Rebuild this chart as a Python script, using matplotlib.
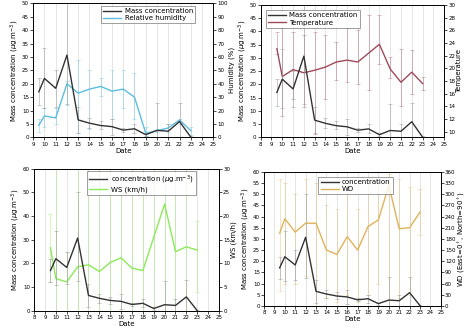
import matplotlib
matplotlib.use('Agg')
import matplotlib.pyplot as plt
import numpy as np

# shared dates and mass concentration
dates = [9.5, 10, 11, 12, 13, 14, 15, 16, 17, 18, 19, 20, 21, 22, 23]
conc = [17.0, 22.0, 18.3, 30.7, 6.5, 5.3, 4.4, 4.0, 2.7, 3.2, 1.0, 2.6, 2.3, 5.9, 0.1]
conc_lo = [12.0, 11.0, 11.5, 12.5, 1.5, 3.5, 3.0, 1.0, 2.0, 1.5, 0.5, 0.0, 0.0, 0.0, 0.0]
conc_hi = [22.0, 33.5, 25.0, 50.0, 11.5, 7.3, 6.0, 7.0, 3.5, 5.0, 1.5, 12.7, 5.0, 13.0, 0.5]

# relative humidity (%)
rh = [9, 16, 14.5, 40, 33, 36, 38, 34.5, 36, 30, 3, 5, 7, 13, 5]
rh_lo = [4, 8, 10, 24, 3, 6, 31, 14, 22, 14, 1, 4, 4, 10, 2]
rh_hi = [14, 22, 22, 42, 58, 50, 44, 50, 50, 48, 8, 6, 10, 14, 8]

# temperature
temp = [23.1, 18.7, 19.8, 19.3, 19.7, 20.2, 21.0, 21.3, 21.0, 22.4, 23.8, 19.9, 17.8, 19.4, 17.6]
temp_lo = [22.3, 12.5, 15.2, 13.9, 9.6, 15.2, 18.1, 17.8, 17.6, 16.5, 20.7, 18.4, 14.0, 16.0, 16.5]
temp_hi = [25.8, 26.3, 25.7, 25.2, 25.7, 25.2, 24.2, 26.3, 26.0, 28.4, 28.4, 21.8, 23.1, 22.9, 18.7]

# wind speed (km/h)
ws = [13.3, 6.8, 6.1, 9.3, 9.7, 8.3, 10.2, 11.2, 9.0, 8.5, 15.5, 22.5, 12.5, 13.5, 12.8]
ws_lo = [6, 0, 0, 0, 0, 0, 0, 0, 0, 0, 0, 0, 0, 0, 4]
ws_hi = [20.5, 30, 12.5, 30, 30, 30, 30, 30, 30, 30, 30, 30, 30, 30, 19]

# wind direction (deg)
wd = [195, 234, 198, 222, 222, 150, 138, 186, 150, 213, 231, 324, 207, 210, 252]
wd_lo = [40, 60, 60, 80, 0, 20, 10, 30, 10, 30, 60, 0, 20, 30, 190]
wd_hi = [340, 330, 300, 340, 330, 270, 260, 320, 260, 340, 330, 355, 340, 320, 315]

DARK = '#333333'
panels = [
    dict(pos=[0.070, 0.590, 0.380, 0.400], xlim=(9, 25), ylim=(0, 50), ystep=5,
         y2=rh, lo=rh_lo, hi=rh_hi, y2lim=(0, 100), y2step=10, color='#5bbde0',
         y2label='Humidity (%)', labels=['Mass concentration', 'Relative humidity'],
         leg=(0.37, 0.99)),
    dict(pos=[0.550, 0.590, 0.387, 0.395], xlim=(8, 25), ylim=(0, 50), ystep=5,
         y2=temp, lo=temp_lo, hi=temp_hi, y2lim=(9.1, 30), y2step=2, color='#9e4a5c',
         y2label='Temperature', labels=['Mass concentration', 'Temperature'],
         leg=(0.02, 0.97)),
    dict(pos=[0.072, 0.072, 0.390, 0.425], xlim=(8, 25), ylim=(0, 60), ystep=10,
         y2=ws, lo=ws_lo, hi=ws_hi, y2lim=(0, 30), y2step=5, color='#8de85a',
         y2label='WS (km/h)',
         labels=['concentration ($\\mu$g.m$^{-3}$)', 'WS (km/h)'],
         leg=(0.28, 0.99)),
    dict(pos=[0.557, 0.087, 0.373, 0.400], xlim=(8, 25), ylim=(0, 60), ystep=5,
         y2=wd, lo=wd_lo, hi=wd_hi, y2lim=(0, 360), y2step=30, color='#e0b35a',
         y2label='WD (East=0$^\\circ$, North=90$^\\circ$)',
         labels=['concentration', 'WD'], leg=(0.30, 0.97)),
]

fig = plt.figure(figsize=(4.74, 3.35), dpi=100)
fs = 4.0

for p in panels:
    ax = fig.add_axes(p['pos'])
    ax2 = ax.twinx()
    ax.set_zorder(ax2.get_zorder() + 1)
    ax.patch.set_visible(False)

    for xv in range(p['xlim'][0], p['xlim'][1] + 1):
        ax2.axvline(xv, color='#dcdcdc', lw=0.5, zorder=0)

    # secondary series
    y2 = np.array(p['y2'])
    ax2.errorbar(dates, y2, yerr=[y2 - np.array(p['lo']), np.array(p['hi']) - y2],
                 fmt='none', ecolor=p['color'], elinewidth=0.5, capsize=1.2,
                 capthick=0.5, alpha=0.5)
    l2, = ax2.plot(dates, y2, color=p['color'], lw=1.0)

    c = np.array(conc)
    ax.errorbar(dates, c, yerr=[c - np.array(conc_lo), np.array(conc_hi) - c],
                fmt='none', ecolor='#999999', elinewidth=0.5, capsize=1.2,
                capthick=0.5, alpha=0.7)
    l1, = ax.plot(dates, c, color=DARK, lw=1.0)

    ax.set_xlim(*p['xlim'])
    ax.set_ylim(*p['ylim'])
    ax2.set_ylim(*p['y2lim'])
    ax.set_xticks(range(p['xlim'][0], p['xlim'][1] + 1))
    ax.set_yticks(np.arange(p['ylim'][0], p['ylim'][1] + 0.1, p['ystep']))
    start = int(np.ceil(p['y2lim'][0] / p['y2step']) * p['y2step'])
    ax2.set_yticks(np.arange(start, p['y2lim'][1] + 0.1, p['y2step']))

    for a in (ax, ax2):
        a.tick_params(labelsize=fs, length=2, width=0.5, pad=1)
        for s in a.spines.values():
            s.set_linewidth(0.6)
    ax.set_xlabel('Date', fontsize=5.0, labelpad=1)
    ax.set_ylabel('Mass concentration ($\\mu$g.m$^{-3}$)', fontsize=5.0, labelpad=0.5)
    ax2.set_ylabel(p['y2label'], fontsize=5.0, labelpad=0.5)

    leg = ax.legend([l1, l2], p['labels'], loc='upper left', bbox_to_anchor=p['leg'],
                    fontsize=5.0, frameon=True, fancybox=False, edgecolor='#555555',
                    handlelength=2.6, borderpad=0.3, labelspacing=0.15,
                    handletextpad=0.5, borderaxespad=0.2)
    leg.get_frame().set_linewidth(0.5)

fig.savefig('out.png', dpi=100)
